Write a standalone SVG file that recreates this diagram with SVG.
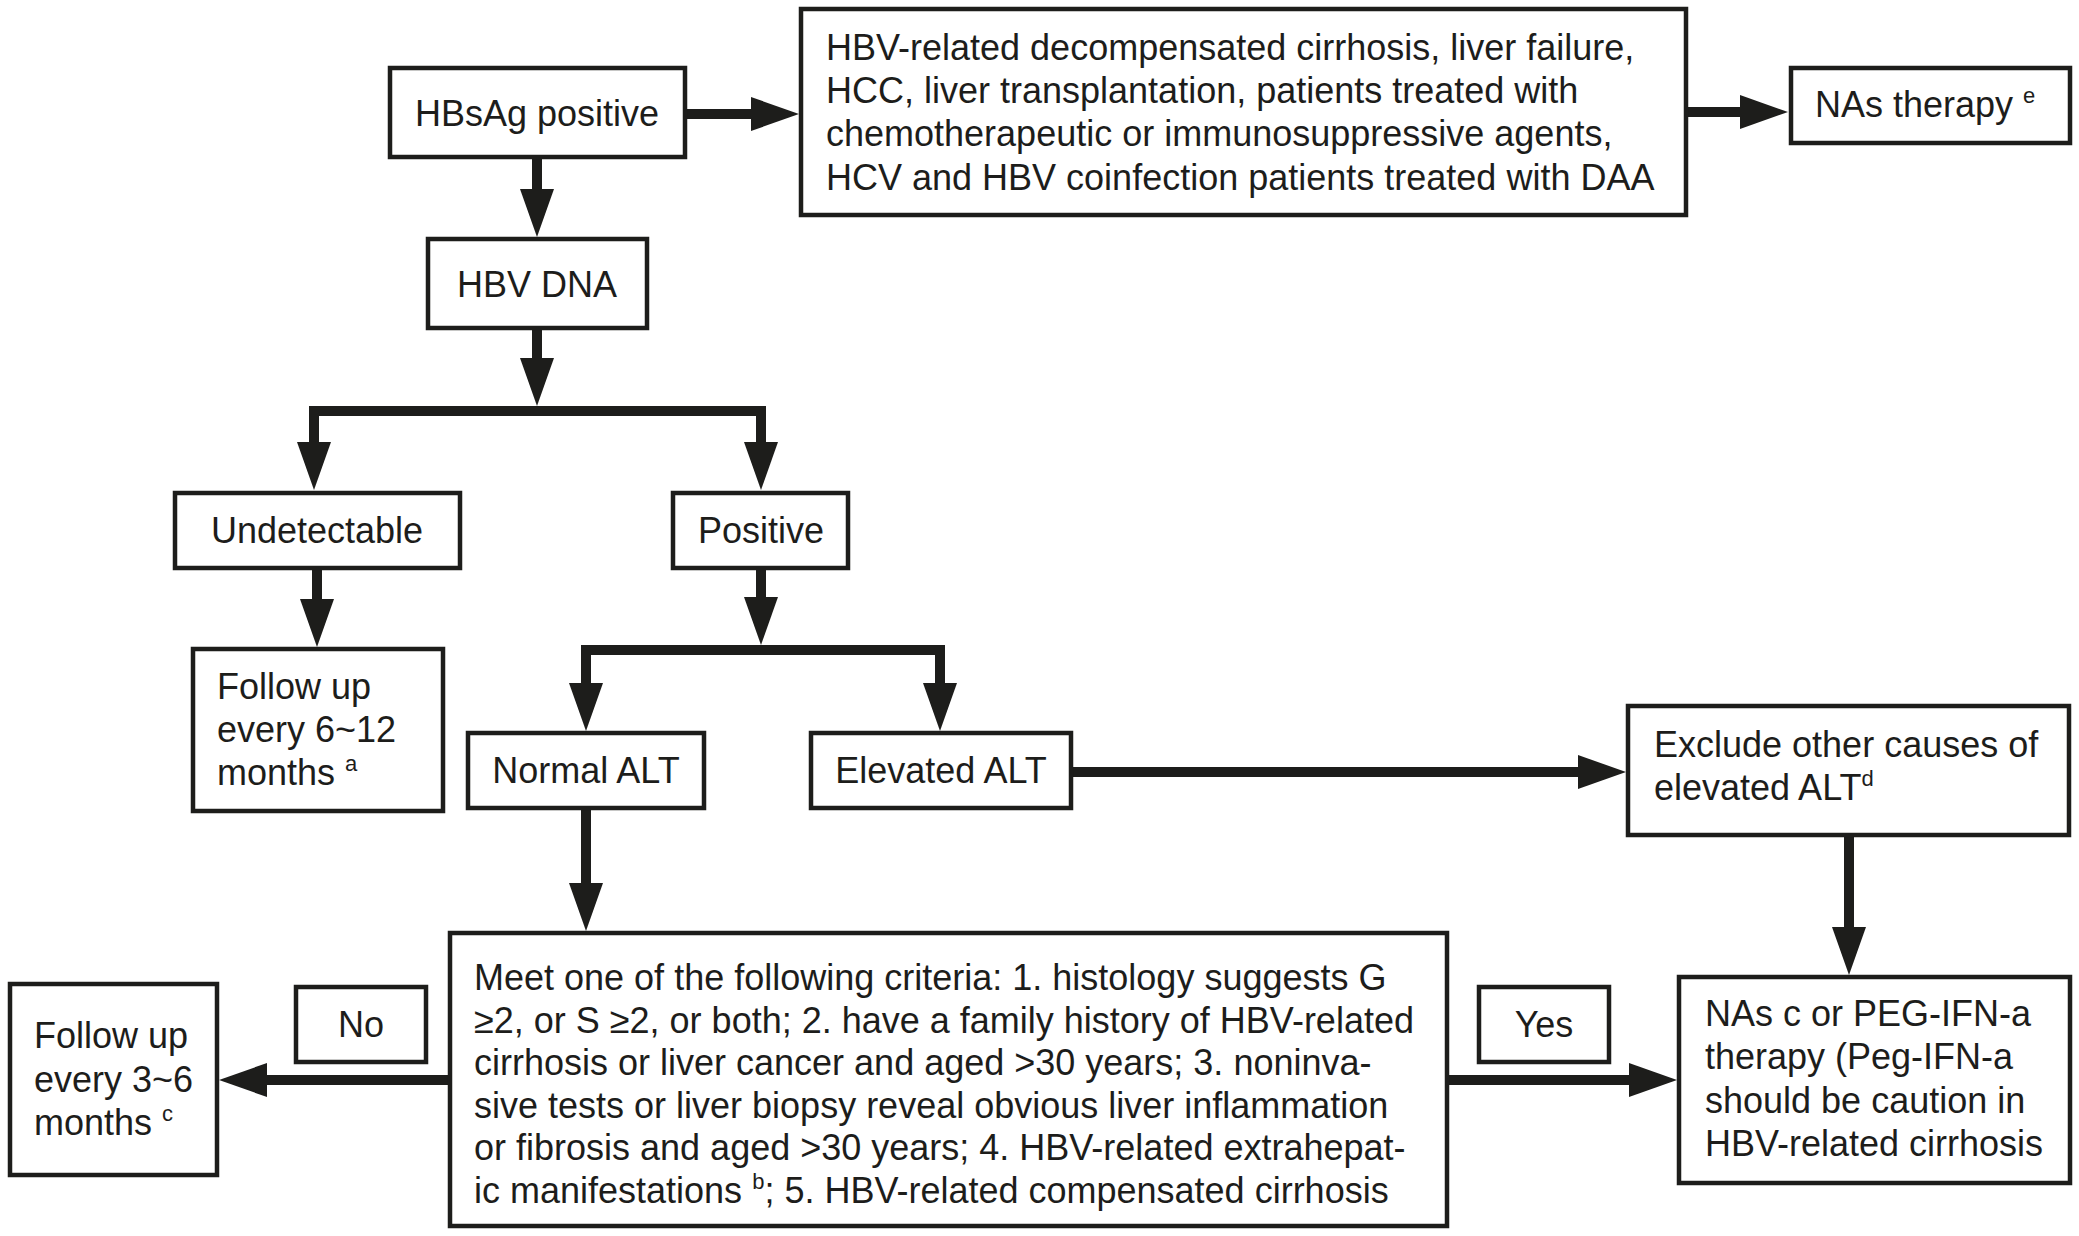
<svg xmlns="http://www.w3.org/2000/svg" width="2079" height="1236" viewBox="0 0 2079 1236">
<defs>
<style>
.box{fill:#fff;stroke:#1d1d1b;stroke-width:4.5}
.t{font-family:"Liberation Sans",Arial,sans-serif;font-size:36px;fill:#1d1d1b}
.c{text-anchor:middle}
.sup{font-size:22px}
.con{fill:none;stroke:#1d1d1b;stroke-width:10;stroke-linejoin:miter;marker-end:url(#ah)}
</style>
<marker id="ah" viewBox="0 0 48 34" refX="0" refY="17" markerWidth="48" markerHeight="34" markerUnits="userSpaceOnUse" orient="auto">
<path d="M0,0 L48,17 L0,34 Z" fill="#1d1d1b"/>
</marker>
</defs>
<rect width="2079" height="1236" fill="#fff"/>
<g id="connectors">
<path class="con" d="M686,114 H751"/>
<path class="con" d="M1688,112 H1740"/>
<path class="con" d="M537,159 V189"/>
<path class="con" d="M537,330 V358"/>
<path class="con" d="M537,411 H314 V442"/>
<path class="con" d="M537,411 H761 V442"/>
<path class="con" d="M317,570 V599"/>
<path class="con" d="M761,570 V597"/>
<path class="con" d="M761,650 H586 V683"/>
<path class="con" d="M761,650 H940 V683"/>
<path class="con" d="M586,810 V883"/>
<path class="con" d="M1073,772 H1578"/>
<path class="con" d="M1849,837 V927"/>
<path class="con" d="M448,1080 H267"/>
<path class="con" d="M1449,1080 H1629"/>
</g>
<g id="hbsag"><rect class="box" x="390" y="68" width="295" height="89"/><text class="t c" x="537" y="126">HBsAg positive</text></g>
<g id="special"><rect class="box" x="801" y="9" width="885" height="206"/>
<text class="t" x="826" y="60">HBV-related decompensated cirrhosis, liver failure,</text>
<text class="t" x="826" y="103">HCC, liver transplantation, patients treated with</text>
<text class="t" x="826" y="146">chemotherapeutic or immunosuppressive agents,</text>
<text class="t" x="826" y="190">HCV and HBV coinfection patients treated with DAA</text></g>
<g id="nas"><rect class="box" x="1791" y="68" width="279" height="75"/><text class="t" x="1815" y="117">NAs therapy <tspan class="sup" dy="-14">e</tspan></text></g>
<g id="hbvdna"><rect class="box" x="428" y="239" width="219" height="89"/><text class="t c" x="537" y="297">HBV DNA</text></g>
<g id="undetectable"><rect class="box" x="175" y="493" width="285" height="75"/><text class="t c" x="317" y="543">Undetectable</text></g>
<g id="positive"><rect class="box" x="673" y="493" width="175" height="75"/><text class="t c" x="761" y="543">Positive</text></g>
<g id="follow1"><rect class="box" x="193" y="649" width="250" height="162"/>
<text class="t" x="217" y="699">Follow up</text>
<text class="t" x="217" y="742">every 6~12</text>
<text class="t" x="217" y="785">months <tspan class="sup" dy="-14">a</tspan></text></g>
<g id="normal"><rect class="box" x="468" y="733" width="236" height="75"/><text class="t c" x="586" y="783">Normal ALT</text></g>
<g id="elevated"><rect class="box" x="811" y="733" width="260" height="75"/><text class="t c" x="941" y="783">Elevated ALT</text></g>
<g id="exclude"><rect class="box" x="1628" y="706" width="441" height="129"/>
<text class="t" x="1654" y="757">Exclude other causes of</text>
<text class="t" x="1654" y="800">elevated ALT<tspan class="sup" dy="-14">d</tspan></text></g>
<g id="criteria"><rect class="box" x="450" y="933" width="997" height="293"/>
<text class="t" x="474" y="990">Meet one of the following criteria: 1. histology suggests G</text>
<text class="t" x="474" y="1033">≥2, or S ≥2, or both; 2. have a family history of HBV-related</text>
<text class="t" x="474" y="1075">cirrhosis or liver cancer and aged &gt;30 years; 3. noninva-</text>
<text class="t" x="474" y="1118">sive tests or liver biopsy reveal obvious liver inflammation</text>
<text class="t" x="474" y="1160">or fibrosis and aged &gt;30 years; 4. HBV-related extrahepat-</text>
<text class="t" x="474" y="1203">ic manifestations <tspan class="sup" dy="-14">b</tspan><tspan dy="14">; 5. HBV-related compensated cirrhosis</tspan></text></g>
<g id="no"><rect class="box" x="296" y="987" width="130" height="75"/><text class="t c" x="361" y="1037">No</text></g>
<g id="yes"><rect class="box" x="1479" y="987" width="130" height="75"/><text class="t c" x="1544" y="1037">Yes</text></g>
<g id="follow2"><rect class="box" x="10" y="984" width="207" height="191"/>
<text class="t" x="34" y="1048">Follow up</text>
<text class="t" x="34" y="1092">every 3~6</text>
<text class="t" x="34" y="1135">months <tspan class="sup" dy="-14">c</tspan></text></g>
<g id="nasc"><rect class="box" x="1679" y="977" width="391" height="206"/>
<text class="t" x="1705" y="1026">NAs c or PEG-IFN-a</text>
<text class="t" x="1705" y="1069">therapy (Peg-IFN-a</text>
<text class="t" x="1705" y="1113">should be caution in</text>
<text class="t" x="1705" y="1156">HBV-related cirrhosis</text></g>
</svg>
